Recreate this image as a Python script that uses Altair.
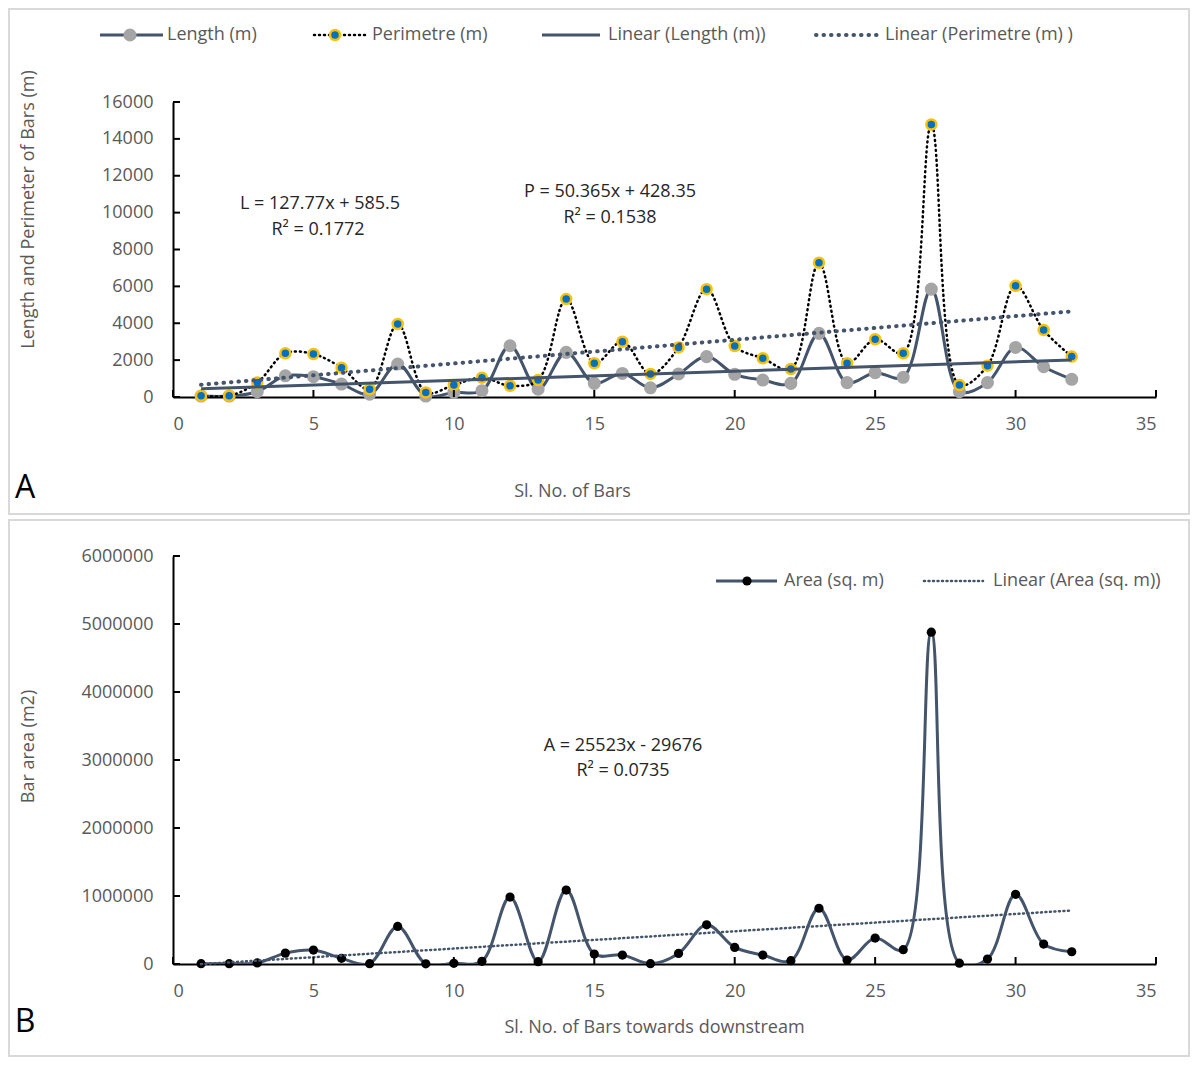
import altair as alt
import pandas as pd

bar_no = list(range(1, 33))
length_m = [50, 50, 290, 1150, 1100, 700, 150, 1790, 50, 250, 340, 2780, 420, 2420, 740, 1280,
            500, 1250, 2190, 1230, 920, 740, 3450, 780, 1320, 1070, 5850, 290, 780, 2690, 1640, 960]
perimetre_m = [70, 70, 780, 2370, 2330, 1590, 420, 3960, 250, 650, 1050, 610, 920, 5310, 1830, 3000,
               1250, 2690, 5850, 2760, 2100, 1520, 7280, 1830, 3130, 2370, 14780, 650, 1700, 6030, 3630, 2190]
area_sqm = [5000, 5000, 15000, 160000, 205000, 83000, 5000, 552000, 3000, 10000, 39000, 985000,
            34000, 1088000, 146000, 132000, 5000, 156000, 576000, 244000, 132000, 49000, 820000,
            59000, 381000, 210000, 4880000, 12000, 73000, 1025000, 293000, 180000]

x_ticks = [0, 5, 10, 15, 20, 25, 30, 35]
top_y_ticks = [0, 2000, 4000, 6000, 8000, 10000, 12000, 14000, 16000]
bottom_y_ticks = [0, 1000000, 2000000, 3000000, 4000000, 5000000, 6000000]

SLATE = "#44546A"
GREY_TXT = "#595959"
FONT = "Open Sans"
W = 983
TOP_H = 295
BOT_H = 408
SMOOTH = "catmull-rom"

df = pd.DataFrame({"bar_no": bar_no, "length_m": length_m,
                   "perimetre_m": perimetre_m, "area_sqm": area_sqm})
one = pd.DataFrame({"k": [0]})


def hrule(x1, x2, y, **style):
    return alt.Chart(one).mark_rule(**style).encode(
        x=alt.value(x1), x2=alt.value(x2), y=alt.value(y))


def dot(x, y, **style):
    return alt.Chart(one).mark_point(filled=True, shape="circle", opacity=1, **style).encode(
        x=alt.value(x), y=alt.value(y))


def label(x, y, txt, size=18, color=GREY_TXT, align="left"):
    return alt.Chart(one).mark_text(text=txt, font=FONT, fontSize=size, color=color,
                                    align=align, baseline="middle").encode(
        x=alt.value(x), y=alt.value(y))


def frame(x1, x2, y1, y2):
    return alt.Chart(one).mark_rect(fillOpacity=0, stroke="#D9D9D9", strokeWidth=2).encode(
        x=alt.value(x1), x2=alt.value(x2), y=alt.value(y1), y2=alt.value(y2))


def x_enc(title, tx, ty):
    return alt.X("bar_no:Q", scale=alt.Scale(domain=[0, 35], nice=False),
                 axis=alt.Axis(values=x_ticks, ticks=False, grid=False, domainColor="black",
                               domainWidth=2, labelFontSize=18, labelColor=GREY_TXT,
                               labelPadding=18, labelFont=FONT, title=title, titleX=tx,
                               titleY=ty, titleFontSize=18, titleFont=FONT,
                               titleFontWeight="normal", titleColor=GREY_TXT,
                               titleAlign="center", titleBaseline="middle"))


def y_enc(field, domain, ticks, title, ty):
    return alt.Y(field, scale=alt.Scale(domain=domain, nice=False),
                 axis=alt.Axis(values=ticks, ticks=False, grid=False, domainColor="black",
                               domainWidth=2, labelFontSize=18, labelColor=GREY_TXT,
                               labelPadding=20, labelFont=FONT, format="d", title=title,
                               titleX=-145, titleY=ty, titleAngle=-90, titleFontSize=18,
                               titleFont=FONT, titleFontWeight="normal", titleColor=GREY_TXT,
                               titleAlign="center", titleBaseline="middle"))


# ---------- panel A ----------
tx = x_enc("Sl. No. of Bars", 399, 94)
ttl_a = "Length and Perimeter of Bars (m)"
top_dom = [0, 16000]


def ya(field):
    return y_enc(field, top_dom, top_y_ticks, ttl_a, 107)


base_a = alt.Chart(df)
len_line = base_a.mark_line(color=SLATE, strokeWidth=3, interpolate=SMOOTH, clip=True).encode(
    x=tx, y=ya("length_m:Q"))
len_pts = base_a.mark_point(filled=True, shape="circle", size=170, color="#A5A5A5", opacity=1).encode(
    x=tx, y=ya("length_m:Q"))
per_line = base_a.mark_line(color="black", strokeWidth=2.5, strokeDash=[1, 4], strokeCap="round",
                            interpolate=SMOOTH, clip=True).encode(x=tx, y=ya("perimetre_m:Q"))
per_pts = base_a.mark_point(filled=True, shape="circle", size=100, fill="#0070C0", stroke="#FFC000",
                            strokeWidth=2.5, opacity=1).encode(x=tx, y=ya("perimetre_m:Q"))
len_trend = base_a.transform_regression("bar_no", "length_m", extent=[1, 32]).mark_line(
    color=SLATE, strokeWidth=3).encode(x=tx, y=ya("length_m:Q"))
per_trend = base_a.transform_regression("bar_no", "perimetre_m", extent=[1, 32]).mark_line(
    color=SLATE, strokeWidth=4, strokeDash=[0.5, 7], strokeCap="round").encode(x=tx, y=ya("perimetre_m:Q"))

a_xticks = alt.Chart(pd.DataFrame({"bar_no": x_ticks})).mark_rule(color="black", strokeWidth=2).encode(
    x=tx, y=alt.value(TOP_H), y2=alt.value(TOP_H - 7))
a_yticks = alt.Chart(pd.DataFrame({"t": top_y_ticks})).mark_rule(color="black", strokeWidth=2).encode(
    y=ya("t:Q"), x=alt.value(0), x2=alt.value(7))

legend_a = [
    hrule(-73, -10, -67, color=SLATE, strokeWidth=3),
    dot(-43, -67, size=170, color="#A5A5A5"),
    label(-6, -67, "Length (m)"),
    hrule(141, 195, -67, color="black", strokeWidth=2.5, strokeDash=[1, 4], strokeCap="round"),
    dot(162, -67, size=100, fill="#0070C0", stroke="#FFC000", strokeWidth=2.5),
    label(199, -67, "Perimetre (m)"),
    hrule(369, 427, -67, color=SLATE, strokeWidth=3),
    label(435, -67, "Linear (Length (m))"),
    hrule(643, 705, -67, color=SLATE, strokeWidth=4, strokeDash=[0.5, 7], strokeCap="round"),
    label(712, -67, "Linear (Perimetre (m) )"),
]
notes_a = [
    label(147, 102, "L = 127.77x + 585.5", color="#262626", align="center"),
    label(145, 128, "R\u00b2 = 0.1772", color="#262626", align="center"),
    label(437, 90, "P = 50.365x + 428.35", color="#262626", align="center"),
    label(437, 116, "R\u00b2 = 0.1538", color="#262626", align="center"),
    label(-148, 386, "A", size=32, color="black", align="center"),
]

panel_a = alt.layer(
    frame(-164, 1016, -93, 412),
    len_line, len_pts, per_line, per_pts, len_trend, per_trend,
    a_xticks, a_yticks, *legend_a, *notes_a,
).properties(width=W, height=TOP_H)

# ---------- panel B ----------
bx = x_enc("Sl. No. of Bars towards downstream", 481, 63)
bot_dom = [0, 6000000]


def yb(field):
    return y_enc(field, bot_dom, bottom_y_ticks, "Bar area (m2)", 190)


base_b = alt.Chart(df)
area_line = base_b.mark_line(color=SLATE, strokeWidth=3, interpolate=SMOOTH, clip=True).encode(
    x=bx, y=yb("area_sqm:Q"))
area_pts = base_b.mark_point(filled=True, shape="circle", size=85, color="black", opacity=1).encode(
    x=bx, y=yb("area_sqm:Q"))
area_trend = base_b.transform_regression("bar_no", "area_sqm", extent=[1, 32]).mark_line(
    color=SLATE, strokeWidth=2.5, strokeDash=[1, 3.5], strokeCap="round").encode(x=bx, y=yb("area_sqm:Q"))

b_xticks = alt.Chart(pd.DataFrame({"bar_no": x_ticks})).mark_rule(color="black", strokeWidth=2).encode(
    x=bx, y=alt.value(BOT_H), y2=alt.value(BOT_H - 7))
b_yticks = alt.Chart(pd.DataFrame({"t": bottom_y_ticks})).mark_rule(color="black", strokeWidth=2).encode(
    y=yb("t:Q"), x=alt.value(0), x2=alt.value(7))

legend_b = [
    hrule(543, 604, 25, color=SLATE, strokeWidth=3),
    dot(574, 25, size=85, color="black"),
    label(611, 25, "Area (sq. m)"),
    hrule(751, 810, 25, color=SLATE, strokeWidth=2.5, strokeDash=[1, 3.5], strokeCap="round"),
    label(820, 25, "Linear (Area (sq. m))"),
]
notes_b = [
    label(450, 190, "A = 25523x - 29676", color="#262626", align="center"),
    label(450, 215, "R\u00b2 = 0.0735", color="#262626", align="center"),
    label(-148, 466, "B", size=32, color="black", align="center"),
]

panel_b = alt.layer(
    frame(-164, 1016, -36, 500),
    area_line, area_pts, area_trend, b_xticks, b_yticks, *legend_b, *notes_b,
).properties(width=W, height=BOT_H)

chart = alt.vconcat(panel_a, panel_b, spacing=4).properties(padding=0).configure_view(stroke=None)

chart.save("out.html", embed_options={"renderer": "svg", "actions": False})
